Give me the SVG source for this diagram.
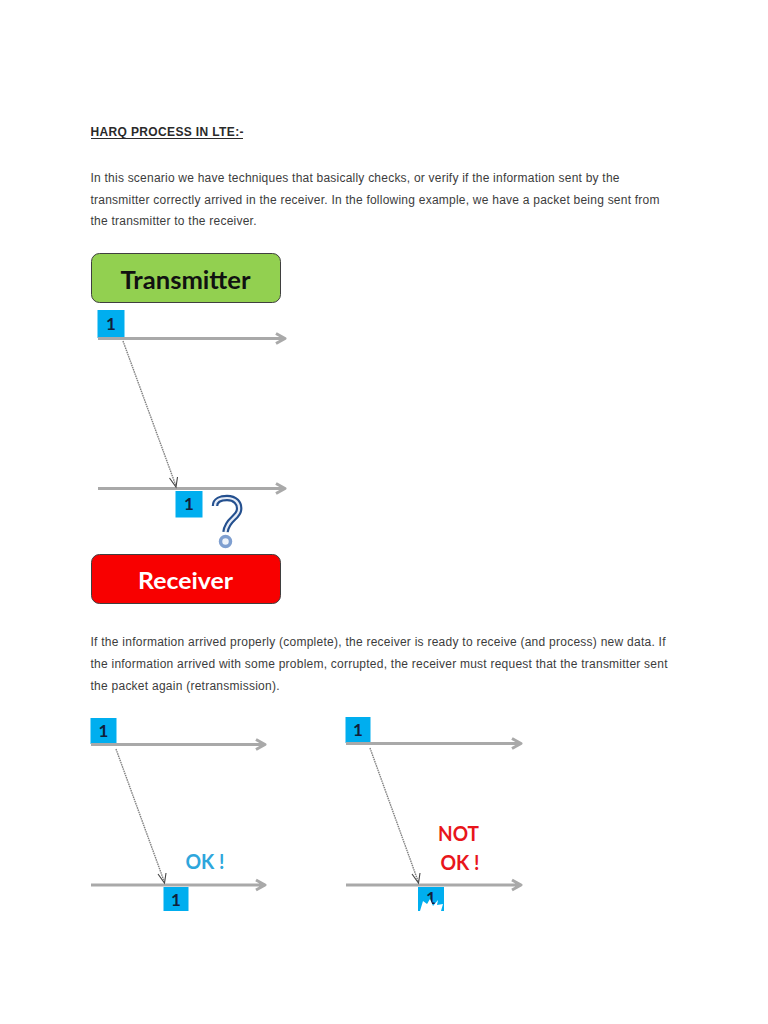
<svg xmlns="http://www.w3.org/2000/svg" width="768" height="1024" viewBox="0 0 768 1024">
<style>
.t{font-family:"Liberation Sans",Arial,sans-serif;font-size:12px;fill:#3c3c3c}
.h{font-family:"Liberation Sans",Arial,sans-serif;font-size:12px;font-weight:bold;fill:#2a2a2a}
.c{font-family:Lato,"Liberation Sans",sans-serif;font-weight:bold}
.n{font-family:Lato,"Liberation Sans",sans-serif;font-weight:bold;font-size:17px;fill:#10203a;text-anchor:middle}
.a{stroke:#a9a9a9;stroke-width:3;fill:none;stroke-linejoin:round}
.d{stroke:#808080;stroke-width:1.4;stroke-dasharray:1.5 .8;fill:none}
.h2{stroke:#444;stroke-width:1.1;fill:none}
.b{fill:#00aeef}
.box{stroke:#3f3f3f;stroke-width:1}
</style>
<rect width="768" height="1024" fill="#fff"/>
<g id="text">
<text class="h" x="90.500" y="136" textLength="153" lengthAdjust="spacing">HARQ PROCESS IN LTE:-</text>
<path d="M91 138.500H243" stroke="#2a2a2a" stroke-width="1"/>
<text class="t" x="90.500" y="182" textLength="529" lengthAdjust="spacing">In this scenario we have techniques that basically checks, or verify if the information sent by the</text>
<text class="t" x="90.500" y="204" textLength="569" lengthAdjust="spacing">transmitter correctly arrived in the receiver. In the following example, we have a packet being sent from</text>
<text class="t" x="90.500" y="225" textLength="166" lengthAdjust="spacing">the transmitter to the receiver.</text>
<text class="t" x="90.500" y="646" textLength="575" lengthAdjust="spacing">If the information arrived properly (complete), the receiver is ready to receive (and process) new data. If</text>
<text class="t" x="90.500" y="668" textLength="577" lengthAdjust="spacing">the information arrived with some problem, corrupted, the receiver must request that the transmitter sent</text>
<text class="t" x="90.500" y="690" textLength="189" lengthAdjust="spacing">the packet again (retransmission).</text>
</g>
<g id="transmitter">
<rect class="box" x="91.500" y="253.500" width="189" height="49" rx="8" fill="#92d050"/>
<text class="c" x="185.500" y="288.500" font-size="24" text-anchor="middle" fill="#111" textLength="130" lengthAdjust="spacingAndGlyphs">Transmitter</text>
</g>
<g id="receiver">
<rect class="box" x="91.500" y="554.500" width="189" height="49" rx="8" fill="#f80000"/>
<text class="c" x="185.500" y="589" font-size="23" text-anchor="middle" fill="#fff" textLength="95" lengthAdjust="spacingAndGlyphs">Receiver</text>
</g>
<g id="packet-tx">
<rect class="b" x="97.500" y="310" width="27" height="28"/>
<text class="n" x="111" y="330">1</text>
</g>
<g id="packet-rx">
<rect class="b" x="175.500" y="491" width="27" height="26.500"/>
<text class="n" x="189" y="510" font-size="16">1</text>
</g>
<g id="question">
<path d="M215 506C215 500 221 498 227 498C235 498 240 503 239 510C238 518 227 519 225.500 532" fill="none" stroke="#24508f" stroke-width="6.500"/>
<path d="M215 506C215 500 221 498 227 498C235 498 240 503 239 510C238 518 227 519 225.500 532" fill="none" stroke="#e6ecf6" stroke-width="2.200"/>
<circle cx="225.500" cy="541.500" r="5" fill="#eef3fa" stroke="#7f9fd0" stroke-width="3.500"/>
</g>
<g id="packet-a1">
<rect class="b" x="90.500" y="718" width="26" height="26"/>
<text class="n" x="103.500" y="737" font-size="16">1</text>
</g>
<g id="packet-a2">
<rect class="b" x="163.500" y="887" width="25" height="24"/>
<text class="n" x="176" y="906" font-size="17">1</text>
</g>
<g id="packet-b1">
<rect class="b" x="345.500" y="717" width="25" height="26"/>
<text class="n" x="358" y="736" font-size="16">1</text>
</g>
<g id="packet-b2">
<rect class="b" x="418" y="887" width="26" height="24"/>
<text class="n" x="431" y="904" font-size="15">1</text>
<path d="M420 911L423 901L427 904L430 899L433 906L438 900L437 905L443 904L441 911Z" fill="#fff"/>
</g>
<g id="label-ok"><text class="c" x="205" y="869" font-size="21" text-anchor="middle" fill="#2ea6dc" textLength="39" lengthAdjust="spacingAndGlyphs">OK !</text></g>
<g id="label-not-ok">
<text class="c" x="458.500" y="841" font-size="21" text-anchor="middle" fill="#e8151b" textLength="41" lengthAdjust="spacingAndGlyphs">NOT</text>
<text class="c" x="460" y="870" font-size="21" text-anchor="middle" fill="#e8151b" textLength="39" lengthAdjust="spacingAndGlyphs">OK !</text>
</g>
<g id="connectors">
<path class="a" d="M98 338.500H285M276 333.500L285 338.500L276 343.500"/>
<path class="a" d="M98 488.500H285M276 483.500L285 488.500L276 493.500"/>
<path class="d" d="M123 341L176 486"/>
<path class="h2" d="M169.500 478L176 487L177.500 477"/>
<path class="a" d="M91 744.500H265M256 739.500L265 744.500L256 749.500"/>
<path class="a" d="M91 885H265M256 880L265 885L256 890"/>
<path class="d" d="M116 749L164 881"/>
<path class="h2" d="M158 874L164.500 883L166 873"/>
<path class="a" d="M346 743.500H521M512 738.500L521 743.500L512 748.500"/>
<path class="a" d="M346 885H521M512 880L521 885L512 890"/>
<path class="d" d="M370 748L418 881"/>
<path class="h2" d="M412 874L418.500 883L420 873"/>
</g>
</svg>
